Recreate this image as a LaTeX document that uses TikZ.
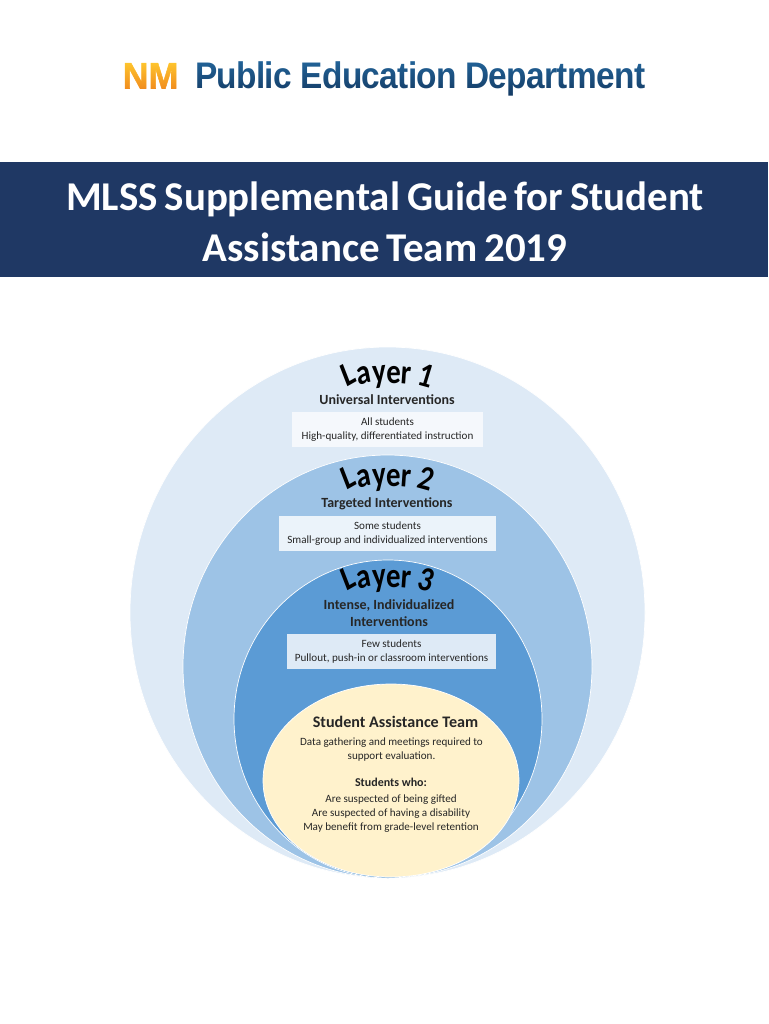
\documentclass[tikz,border=0pt]{standalone}
\usepackage{fontspec}
\setmainfont{Carlito}
\newfontfamily\logofont{Liberation Sans}
\newfontfamily\titlefont[WordSpace=0.75]{Carlito}
\usetikzlibrary{shapes.geometric}
\definecolor{bandblue}{HTML}{1F3864}
\definecolor{ringa}{HTML}{DEEAF6}
\definecolor{ringb}{HTML}{9DC3E6}
\definecolor{ringc}{HTML}{5B9BD5}
\definecolor{ringd}{HTML}{FFF2CC}
\definecolor{inktext}{HTML}{262626}
\definecolor{nmtop}{HTML}{FFC82E}
\definecolor{nmbot}{HTML}{F08A1D}
\definecolor{pedtop}{HTML}{23669C}
\definecolor{pedbot}{HTML}{12355C}
\newcommand{\fs}[2]{\fontsize{#1}{#2}\selectfont}
\newcommand{\lt}[3]{\raisebox{#2pt}{\rotatebox{#1}{#3}}}
\newcommand{\layerword}[1]{\lt{25}{-2}{L}\kern-2pt\lt{13}{-0.5}{a}\kern-1pt\lt{5}{1.5}{y}\kern-1pt\lt{0}{2}{e}\kern0pt\lt{-5}{2}{r}\kern5pt\lt{-13}{0.5}{\itshape #1}}
\tikzset{
  ring/.style={ellipse,draw=white,line width=0.7pt,inner sep=0pt},
  layerhead/.style={font=\bfseries\fs{31}{31},xscale=0.93,yscale=1.12,text=black,inner sep=0pt},
  subhead/.style={font=\bfseries\fs{14}{17},text=inktext,align=center,inner sep=0pt},
  infobox/.style={align=center,font=\fs{11.1}{14.3},text=inktext,inner sep=0pt},
  body/.style={align=center,font=\fs{11.1}{14},text=inktext,inner sep=0pt},
}
\begin{document}
\begin{tikzpicture}[x=1pt,y=-1pt]
\useasboundingbox (0,0) rectangle (768,1024);
\fill[white] (0,0) rectangle (768,1024);

% logo: black text recoloured by a screened gradient
\node[anchor=base west,inner sep=0pt,xscale=0.97,font=\logofont\bfseries\fs{37}{37},text=black,draw=none] (nm) at (122.5,88.5) {\addfontfeature{FakeBold=1.5}NM};
\node[anchor=base west,inner sep=0pt,xscale=0.903,font=\logofont\bfseries\fs{37}{37},text=black] (ped) at (195,88.5) {\addfontfeature{LetterSpace=-2.0}Public Education Department};
\begin{scope}[blend mode=screen]
\shade[top color=nmtop,bottom color=nmbot] (118,61) rectangle (186,90);
\shade[top color=pedtop,bottom color=pedbot] (190,58) rectangle (652,100);
\end{scope}

% title band
\fill[bandblue] (0,162) rectangle (768,277);
\node[align=center,text=white,inner sep=0pt,font=\titlefont\bfseries\fs{40.9}{51}] (title) at (385,222)
  {MLSS Supplemental Guide for Student\\Assistance Team 2019};

% nested ellipses
\node[ring,fill=ringa,minimum width=515pt,minimum height=531pt] (o1) at (387.5,612.5) {};
\node[ring,fill=ringb,minimum width=409pt,minimum height=423pt] (o2) at (387.5,666.5) {};
\node[ring,fill=ringc,minimum width=308pt,minimum height=318pt] (o3) at (388,719) {};
\node[ring,fill=ringd,minimum width=256pt,minimum height=193pt] (o4) at (391,780.5) {};

% layer 1
\node[layerhead] (l1) at (387,375) {\layerword{1}};
\node[subhead] (s1) at (387,399.5) {Universal Interventions};
\node[infobox,fill=white,fill opacity=0.7,text opacity=1,minimum width=191pt,minimum height=35pt] (b1) at (387.5,429.5)
  {\raisebox{-0.8pt}{All students}\\\raisebox{-0.8pt}{High-quality, differentiated instruction}};

% layer 2
\node[layerhead] (l2) at (387,478) {\layerword{2}};
\node[subhead] (s2) at (387,503.5) {Targeted Interventions};
\node[infobox,fill=white,fill opacity=0.8,text opacity=1,minimum width=217pt,minimum height=35pt] (b2) at (387.5,533.5)
  {\raisebox{-0.8pt}{Some students}\\\raisebox{-0.8pt}{Small-group and individualized interventions}};

% layer 3
\node[layerhead] (l3) at (387,579) {\layerword{3}};
\node[subhead] (s3) at (389,613.5) {Intense, Individualized\\Interventions};
\node[infobox,fill=ringa,minimum width=209pt,minimum height=35pt] (b3) at (391.5,651.5)
  {\raisebox{-0.8pt}{Few students}\\\raisebox{-0.8pt}{Pullout, push-in or classroom interventions}};

% student assistance team
\node[subhead,font=\bfseries\fs{16.1}{18}] (s4) at (395.5,722) {Student Assistance Team};
\node[body] (t4) at (391.5,750) {Data gathering and meetings required to\\support evaluation.};
\node[subhead,font=\bfseries\fs{12}{14}] (w4) at (391,782) {Students who:};
\node[body,font=\fs{11.1}{13.6}] (u4) at (391,813.5) {Are suspected of being gifted\\Are suspected of having a disability\\May benefit from grade-level retention};
\end{tikzpicture}
\end{document}
